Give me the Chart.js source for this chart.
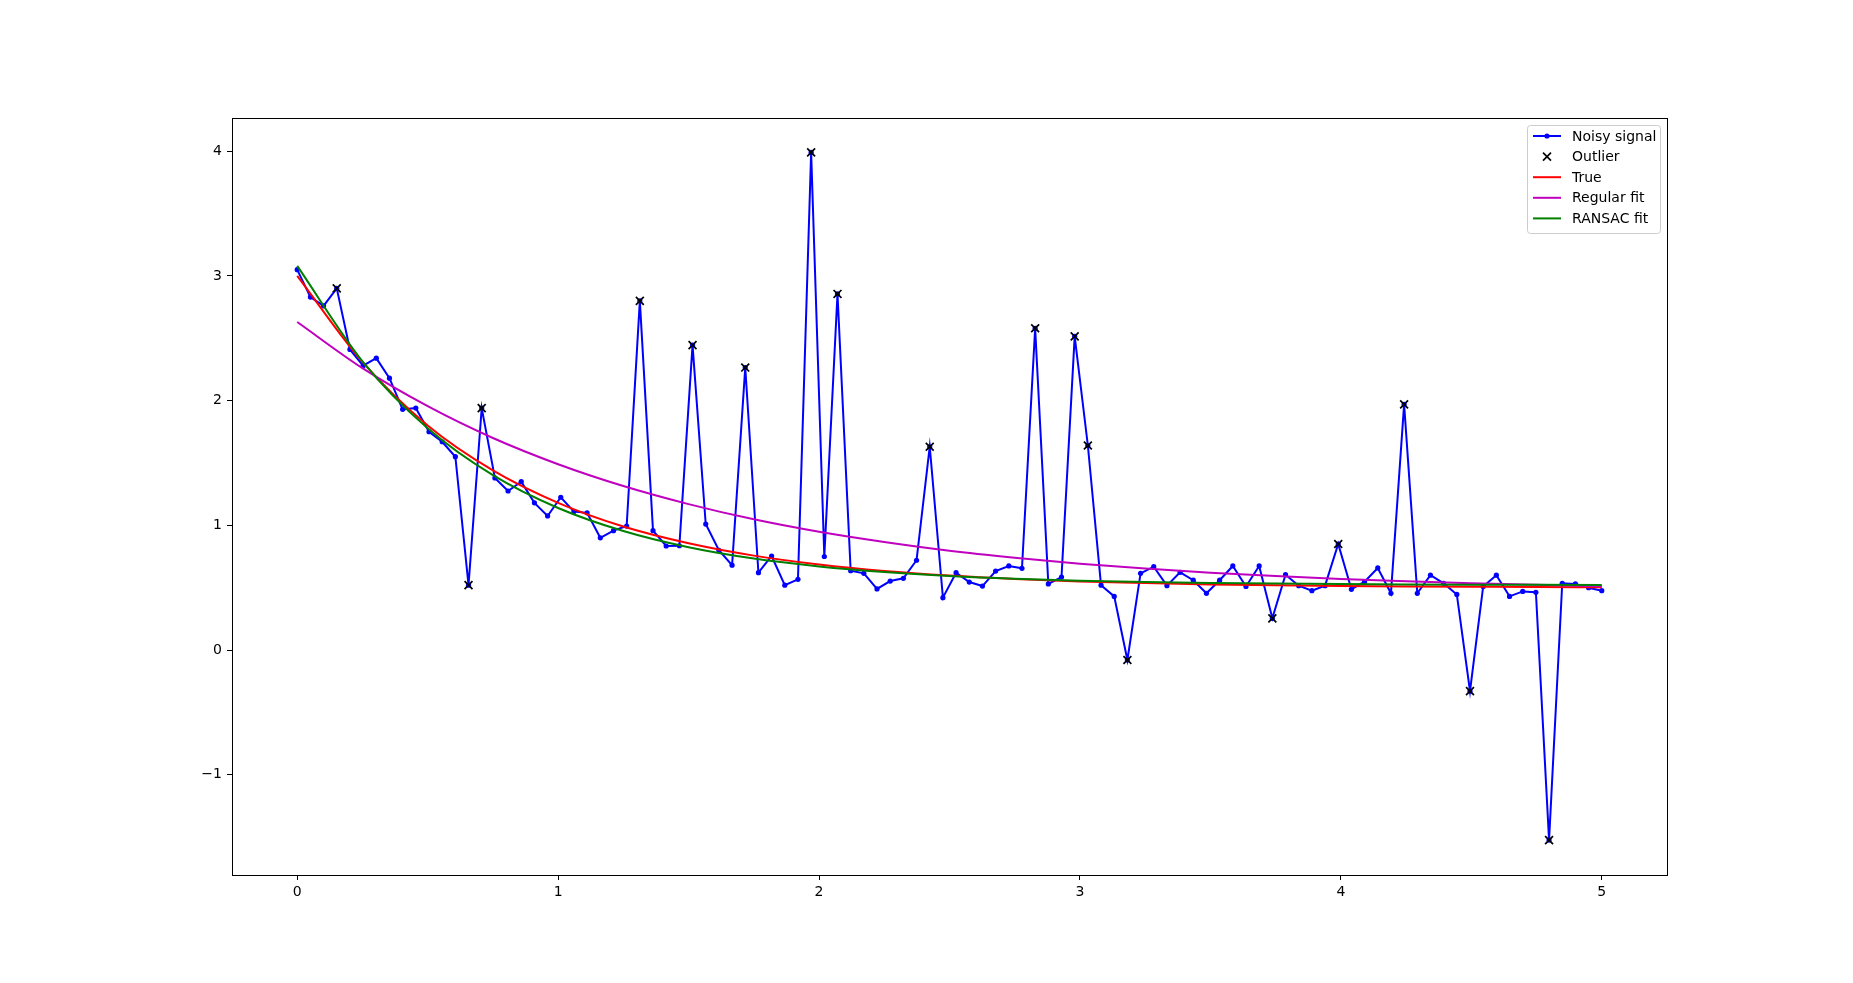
<!DOCTYPE html>
<html>
<head>
<meta charset="utf-8">
<title>RANSAC fit</title>
<script src="https://cdn.jsdelivr.net/npm/chart.js@4.4.0/dist/chart.umd.min.js"></script>
<style>
    html, body { margin: 0; padding: 0; background: #fff; }
    canvas { display: block; }
</style>
</head>
<body>
<canvas id="fitChart" width="1853" height="983"></canvas>
<script>
// Sample grid (100 evenly spaced samples on [0, 5])
const sampleCount = 100;
const sampleEnd = 5;
const sampleX = Array.from({ length: sampleCount }, (_, i) => i * sampleEnd / (sampleCount - 1));

// Noisy signal
const noisySignal = [
    3.05, 2.83, 2.76, 2.90, 2.41, 2.28, 2.34, 2.18, 1.93, 1.94,
    1.75, 1.67, 1.55, 0.52, 1.94, 1.38, 1.275, 1.35, 1.18, 1.075,
    1.225, 1.11, 1.10, 0.90, 0.957, 0.994, 2.80, 0.957, 0.834, 0.836,
    2.445, 1.01, 0.80, 0.68, 2.265, 0.62, 0.754, 0.52, 0.567, 3.99,
    0.75, 2.855, 0.636, 0.615, 0.49, 0.553, 0.575, 0.72, 1.63, 0.42,
    0.62, 0.545, 0.513, 0.633, 0.674, 0.655, 2.58, 0.53, 0.585, 2.515,
    1.64, 0.52, 0.43, -0.08, 0.615, 0.668, 0.516, 0.623, 0.56, 0.455,
    0.56, 0.674, 0.51, 0.674, 0.254, 0.604, 0.516, 0.476, 0.516, 0.85,
    0.487, 0.548, 0.658, 0.455, 1.97, 0.455, 0.60, 0.535, 0.446, -0.33,
    0.51, 0.60, 0.43, 0.47, 0.463, -1.524, 0.535, 0.53, 0.50, 0.476
];

// Samples flagged as outliers
const outlierIdx = [3, 13, 14, 26, 30, 34, 39, 41, 48, 56, 59, 60, 63, 74, 79, 84, 89, 95];

// Fitted curves, every 0.25
const fitX = [0, 0.25, 0.5, 0.75, 1, 1.25, 1.5, 1.75, 2, 2.25, 2.5, 2.75, 3, 3.25, 3.5, 3.75, 4, 4.25, 4.5, 4.75, 5];
const trueY = [3.00, 2.31, 1.80, 1.44, 1.18, 0.99, 0.856, 0.757, 0.686, 0.634, 0.597, 0.57, 0.55, 0.537, 0.526, 0.519, 0.514, 0.51, 0.507, 0.505, 0.504];
const regularY = [2.63, 2.26, 1.955, 1.70, 1.49, 1.315, 1.17, 1.048, 0.948, 0.866, 0.796, 0.74, 0.692, 0.653, 0.62, 0.593, 0.57, 0.552, 0.536, 0.523, 0.512];
const ransacY = [3.08, 2.315, 1.778, 1.402, 1.139, 0.954, 0.824, 0.733, 0.67, 0.625, 0.593, 0.571, 0.556, 0.545, 0.538, 0.533, 0.529, 0.526, 0.524, 0.523, 0.522];

// Axes
const xTicks = [0, 1, 2, 3, 4, 5];
const yTicks = [-1, 0, 1, 2, 3, 4];
const xRange = [-0.25, 5.25];
const yRange = [-1.804, 4.266];

const legendLabels = ['Noisy signal', 'Outlier', 'True', 'Regular fit', 'RANSAC fit'];

const FONT = '"DejaVu Sans", sans-serif';
const AXES = { left: 232, top: 118, right: 1667, bottom: 875 };

const toPoints = (xs, ys) => xs.map((x, i) => ({ x: x, y: ys[i] }));

// White background, axes frame and matplotlib-like legend
const framePlugin = {
    id: 'frame',
    beforeDraw(chart) {
        const ctx = chart.ctx;
        ctx.save();
        ctx.fillStyle = '#fff';
        ctx.fillRect(0, 0, chart.width, chart.height);
        ctx.restore();
    },
    afterDraw(chart) {
        const ctx = chart.ctx;
        const a = chart.chartArea;
        ctx.save();
        ctx.strokeStyle = '#000';
        ctx.lineWidth = 1;
        ctx.strokeRect(Math.round(a.left) + 0.5, Math.round(a.top) + 0.5,
            Math.round(a.right - a.left), Math.round(a.bottom - a.top));
        ctx.restore();
        drawLegend(chart);
    }
};

function drawLegend(chart) {
    const ctx = chart.ctx;
    const box = { left: 1527, top: 125, right: 1660, bottom: 233 };
    ctx.save();
    ctx.fillStyle = 'rgba(255,255,255,0.8)';
    ctx.strokeStyle = '#cccccc';
    ctx.lineWidth = 1;
    ctx.beginPath();
    ctx.roundRect(box.left + 0.5, box.top + 0.5, box.right - box.left, box.bottom - box.top, 3);
    ctx.fill();
    ctx.stroke();

    const styles = [
        { kind: 'dotline', color: '#0000ff' },
        { kind: 'cross', color: '#000000' },
        { kind: 'line', color: '#ff0000' },
        { kind: 'line', color: '#bf00bf' },
        { kind: 'line', color: '#008000' }
    ];
    const hx0 = 1533, hx1 = 1561;
    ctx.font = '14px ' + FONT;
    ctx.textBaseline = 'middle';
    legendLabels.forEach((label, i) => {
        const y = 136 + i * 20.6;
        const s = styles[i];
        if (s.kind !== 'cross') {
            ctx.strokeStyle = s.color;
            ctx.lineWidth = 2;
            ctx.beginPath();
            ctx.moveTo(hx0, y);
            ctx.lineTo(hx1, y);
            ctx.stroke();
        }
        if (s.kind === 'dotline') {
            ctx.fillStyle = s.color;
            ctx.beginPath();
            ctx.arc((hx0 + hx1) / 2, y, 2.6, 0, Math.PI * 2);
            ctx.fill();
        }
        if (s.kind === 'cross') {
            const cx = (hx0 + hx1) / 2, r = 4;
            ctx.strokeStyle = s.color;
            ctx.lineWidth = 1.6;
            ctx.beginPath();
            ctx.moveTo(cx - r, y - r); ctx.lineTo(cx + r, y + r);
            ctx.moveTo(cx - r, y + r); ctx.lineTo(cx + r, y - r);
            ctx.stroke();
        }
        ctx.fillStyle = '#000';
        ctx.fillText(label, 1572, y + 1);
    });
    ctx.restore();
}

function initChart() {
    const ctx = document.getElementById('fitChart').getContext('2d');
    const tickFont = { family: FONT, size: 14 };
    const minus = v => String(v).replace('-', '\u2212');

    return new Chart(ctx, {
        type: 'line',
        data: {
            datasets: [
                {
                    label: legendLabels[0],
                    data: toPoints(sampleX, noisySignal),
                    borderColor: '#0000ff',
                    backgroundColor: '#0000ff',
                    borderWidth: 2,
                    pointRadius: 2.6,
                    pointBorderWidth: 0,
                    tension: 0,
                    order: 5
                },
                {
                    label: legendLabels[1],
                    data: outlierIdx.map(i => ({ x: sampleX[i], y: noisySignal[i] })),
                    showLine: false,
                    pointStyle: 'crossRot',
                    pointRadius: 5.6,
                    pointBorderColor: '#000',
                    pointBorderWidth: 1.7,
                    order: 4
                },
                {
                    label: legendLabels[2],
                    data: toPoints(fitX, trueY),
                    borderColor: '#ff0000',
                    borderWidth: 2,
                    pointRadius: 0,
                    cubicInterpolationMode: 'monotone',
                    order: 3
                },
                {
                    label: legendLabels[3],
                    data: toPoints(fitX, regularY),
                    borderColor: '#bf00bf',
                    borderWidth: 2,
                    pointRadius: 0,
                    cubicInterpolationMode: 'monotone',
                    order: 2
                },
                {
                    label: legendLabels[4],
                    data: toPoints(fitX, ransacY),
                    borderColor: '#008000',
                    borderWidth: 2,
                    pointRadius: 0,
                    cubicInterpolationMode: 'monotone',
                    order: 1
                }
            ]
        },
        options: {
            responsive: false,
            animation: false,
            devicePixelRatio: 1,
            layout: {
                padding: { top: AXES.top, right: 1853 - AXES.right, bottom: 0, left: 0 }
            },
            plugins: {
                legend: { display: false },
                tooltip: { enabled: false }
            },
            scales: {
                x: {
                    type: 'linear',
                    min: xRange[0],
                    max: xRange[1],
                    afterBuildTicks: s => { s.ticks = xTicks.map(v => ({ value: v })); },
                    afterFit: s => { s.height = 983 - AXES.bottom; },
                    grid: { drawOnChartArea: false, drawTicks: true, tickLength: 5, tickColor: '#000', tickWidth: 1 },
                    border: { display: true, color: '#000', width: 1 },
                    ticks: { color: '#000', font: tickFont, padding: 4, maxRotation: 0, callback: minus }
                },
                y: {
                    type: 'linear',
                    min: yRange[0],
                    max: yRange[1],
                    afterBuildTicks: s => { s.ticks = yTicks.map(v => ({ value: v })); },
                    afterFit: s => { s.width = AXES.left; },
                    grid: { drawOnChartArea: false, drawTicks: true, tickLength: 5, tickColor: '#000', tickWidth: 1 },
                    border: { display: true, color: '#000', width: 1 },
                    ticks: { color: '#000', font: tickFont, padding: 5, callback: minus }
                }
            }
        },
        plugins: [framePlugin]
    });
}

initChart();
</script>
</body>
</html>
